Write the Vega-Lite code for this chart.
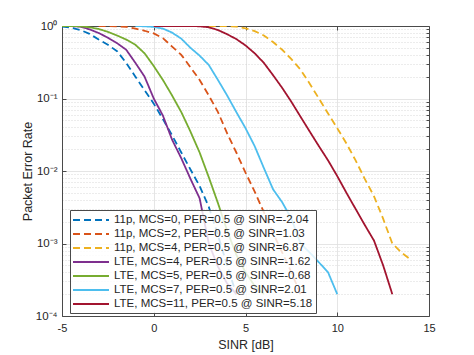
{
  "$schema": "https://vega.github.io/schema/vega-lite/v6.json",
  "width": 367,
  "height": 290,
  "autosize": {"type": "none"},
  "padding": {"left": 62, "top": 26, "right": 45, "bottom": 39},
  "background": "white",
  "config": {
    "font": "Liberation Sans",
    "view": {"stroke": null},
    "axis": {
      "labelFont": "Liberation Sans",
      "titleFont": "Liberation Sans",
      "labelColor": "#262626",
      "titleColor": "#262626",
      "titleFontWeight": "normal",
      "labelFontSize": 11,
      "titleFontSize": 12.5,
      "domainColor": "#4a4a4a",
      "tickColor": "#4a4a4a",
      "gridColor": "#dedede",
      "gridWidth": 0.8
    }
  },
  "data": {
    "values": [
      {"s": "11p, MCS=0, PER=0.5 @ SINR=-2.04", "x": -5, "y": 0.985},
      {"s": "11p, MCS=0, PER=0.5 @ SINR=-2.04", "x": -4.5, "y": 0.95},
      {"s": "11p, MCS=0, PER=0.5 @ SINR=-2.04", "x": -4, "y": 0.88},
      {"s": "11p, MCS=0, PER=0.5 @ SINR=-2.04", "x": -3.5, "y": 0.78},
      {"s": "11p, MCS=0, PER=0.5 @ SINR=-2.04", "x": -3, "y": 0.65},
      {"s": "11p, MCS=0, PER=0.5 @ SINR=-2.04", "x": -2.5, "y": 0.55},
      {"s": "11p, MCS=0, PER=0.5 @ SINR=-2.04", "x": -2, "y": 0.45},
      {"s": "11p, MCS=0, PER=0.5 @ SINR=-2.04", "x": -1.5, "y": 0.31},
      {"s": "11p, MCS=0, PER=0.5 @ SINR=-2.04", "x": -1, "y": 0.2},
      {"s": "11p, MCS=0, PER=0.5 @ SINR=-2.04", "x": -0.5, "y": 0.13},
      {"s": "11p, MCS=0, PER=0.5 @ SINR=-2.04", "x": 0, "y": 0.085},
      {"s": "11p, MCS=0, PER=0.5 @ SINR=-2.04", "x": 0.5, "y": 0.052},
      {"s": "11p, MCS=0, PER=0.5 @ SINR=-2.04", "x": 1, "y": 0.031},
      {"s": "11p, MCS=0, PER=0.5 @ SINR=-2.04", "x": 1.5, "y": 0.018},
      {"s": "11p, MCS=0, PER=0.5 @ SINR=-2.04", "x": 2, "y": 0.0105},
      {"s": "11p, MCS=0, PER=0.5 @ SINR=-2.04", "x": 2.5, "y": 0.0062},
      {"s": "11p, MCS=0, PER=0.5 @ SINR=-2.04", "x": 3, "y": 0.0032},
      {"s": "11p, MCS=0, PER=0.5 @ SINR=-2.04", "x": 3.5, "y": 0.0013},
      {"s": "11p, MCS=0, PER=0.5 @ SINR=-2.04", "x": 4, "y": 0.0005},
      {"s": "11p, MCS=0, PER=0.5 @ SINR=-2.04", "x": 4.5, "y": 0.0002},

      {"s": "11p, MCS=2, PER=0.5 @ SINR=1.03", "x": -3, "y": 1},
      {"s": "11p, MCS=2, PER=0.5 @ SINR=1.03", "x": -2.5, "y": 0.995},
      {"s": "11p, MCS=2, PER=0.5 @ SINR=1.03", "x": -2, "y": 0.99},
      {"s": "11p, MCS=2, PER=0.5 @ SINR=1.03", "x": -1.5, "y": 0.97},
      {"s": "11p, MCS=2, PER=0.5 @ SINR=1.03", "x": -1, "y": 0.92},
      {"s": "11p, MCS=2, PER=0.5 @ SINR=1.03", "x": -0.5, "y": 0.86},
      {"s": "11p, MCS=2, PER=0.5 @ SINR=1.03", "x": 0, "y": 0.79},
      {"s": "11p, MCS=2, PER=0.5 @ SINR=1.03", "x": 0.5, "y": 0.68},
      {"s": "11p, MCS=2, PER=0.5 @ SINR=1.03", "x": 1, "y": 0.52},
      {"s": "11p, MCS=2, PER=0.5 @ SINR=1.03", "x": 1.5, "y": 0.4},
      {"s": "11p, MCS=2, PER=0.5 @ SINR=1.03", "x": 2, "y": 0.27},
      {"s": "11p, MCS=2, PER=0.5 @ SINR=1.03", "x": 2.5, "y": 0.18},
      {"s": "11p, MCS=2, PER=0.5 @ SINR=1.03", "x": 3, "y": 0.11},
      {"s": "11p, MCS=2, PER=0.5 @ SINR=1.03", "x": 3.5, "y": 0.065},
      {"s": "11p, MCS=2, PER=0.5 @ SINR=1.03", "x": 4, "y": 0.033},
      {"s": "11p, MCS=2, PER=0.5 @ SINR=1.03", "x": 4.5, "y": 0.018},
      {"s": "11p, MCS=2, PER=0.5 @ SINR=1.03", "x": 5, "y": 0.0095},
      {"s": "11p, MCS=2, PER=0.5 @ SINR=1.03", "x": 5.5, "y": 0.0052},
      {"s": "11p, MCS=2, PER=0.5 @ SINR=1.03", "x": 6, "y": 0.0027},
      {"s": "11p, MCS=2, PER=0.5 @ SINR=1.03", "x": 6.5, "y": 0.0014},
      {"s": "11p, MCS=2, PER=0.5 @ SINR=1.03", "x": 7, "y": 0.00075},
      {"s": "11p, MCS=2, PER=0.5 @ SINR=1.03", "x": 7.5, "y": 0.0004},
      {"s": "11p, MCS=2, PER=0.5 @ SINR=1.03", "x": 8, "y": 0.0002},

      {"s": "11p, MCS=4, PER=0.5 @ SINR=6.87", "x": 0, "y": 1},
      {"s": "11p, MCS=4, PER=0.5 @ SINR=6.87", "x": 4, "y": 1},
      {"s": "11p, MCS=4, PER=0.5 @ SINR=6.87", "x": 4.5, "y": 0.98},
      {"s": "11p, MCS=4, PER=0.5 @ SINR=6.87", "x": 5, "y": 0.93},
      {"s": "11p, MCS=4, PER=0.5 @ SINR=6.87", "x": 5.5, "y": 0.85},
      {"s": "11p, MCS=4, PER=0.5 @ SINR=6.87", "x": 6, "y": 0.74},
      {"s": "11p, MCS=4, PER=0.5 @ SINR=6.87", "x": 6.5, "y": 0.6},
      {"s": "11p, MCS=4, PER=0.5 @ SINR=6.87", "x": 7, "y": 0.47},
      {"s": "11p, MCS=4, PER=0.5 @ SINR=6.87", "x": 7.5, "y": 0.35},
      {"s": "11p, MCS=4, PER=0.5 @ SINR=6.87", "x": 8, "y": 0.25},
      {"s": "11p, MCS=4, PER=0.5 @ SINR=6.87", "x": 8.5, "y": 0.16},
      {"s": "11p, MCS=4, PER=0.5 @ SINR=6.87", "x": 9, "y": 0.1},
      {"s": "11p, MCS=4, PER=0.5 @ SINR=6.87", "x": 9.5, "y": 0.062},
      {"s": "11p, MCS=4, PER=0.5 @ SINR=6.87", "x": 10, "y": 0.039},
      {"s": "11p, MCS=4, PER=0.5 @ SINR=6.87", "x": 10.5, "y": 0.024},
      {"s": "11p, MCS=4, PER=0.5 @ SINR=6.87", "x": 11, "y": 0.014},
      {"s": "11p, MCS=4, PER=0.5 @ SINR=6.87", "x": 11.5, "y": 0.0078},
      {"s": "11p, MCS=4, PER=0.5 @ SINR=6.87", "x": 12, "y": 0.0045},
      {"s": "11p, MCS=4, PER=0.5 @ SINR=6.87", "x": 12.5, "y": 0.0022},
      {"s": "11p, MCS=4, PER=0.5 @ SINR=6.87", "x": 13, "y": 0.001},
      {"s": "11p, MCS=4, PER=0.5 @ SINR=6.87", "x": 13.5, "y": 0.00075},
      {"s": "11p, MCS=4, PER=0.5 @ SINR=6.87", "x": 14, "y": 0.0006},

      {"s": "LTE, MCS=4, PER=0.5 @ SINR=-1.62", "x": -5, "y": 1},
      {"s": "LTE, MCS=4, PER=0.5 @ SINR=-1.62", "x": -4.5, "y": 0.995},
      {"s": "LTE, MCS=4, PER=0.5 @ SINR=-1.62", "x": -4, "y": 0.98},
      {"s": "LTE, MCS=4, PER=0.5 @ SINR=-1.62", "x": -3.5, "y": 0.9},
      {"s": "LTE, MCS=4, PER=0.5 @ SINR=-1.62", "x": -3, "y": 0.8},
      {"s": "LTE, MCS=4, PER=0.5 @ SINR=-1.62", "x": -2.5, "y": 0.69},
      {"s": "LTE, MCS=4, PER=0.5 @ SINR=-1.62", "x": -2, "y": 0.58},
      {"s": "LTE, MCS=4, PER=0.5 @ SINR=-1.62", "x": -1.5, "y": 0.47},
      {"s": "LTE, MCS=4, PER=0.5 @ SINR=-1.62", "x": -1, "y": 0.31},
      {"s": "LTE, MCS=4, PER=0.5 @ SINR=-1.62", "x": -0.5, "y": 0.2},
      {"s": "LTE, MCS=4, PER=0.5 @ SINR=-1.62", "x": 0, "y": 0.1},
      {"s": "LTE, MCS=4, PER=0.5 @ SINR=-1.62", "x": 0.5, "y": 0.058},
      {"s": "LTE, MCS=4, PER=0.5 @ SINR=-1.62", "x": 1, "y": 0.027},
      {"s": "LTE, MCS=4, PER=0.5 @ SINR=-1.62", "x": 1.5, "y": 0.015},
      {"s": "LTE, MCS=4, PER=0.5 @ SINR=-1.62", "x": 2, "y": 0.0078},
      {"s": "LTE, MCS=4, PER=0.5 @ SINR=-1.62", "x": 2.5, "y": 0.0042},
      {"s": "LTE, MCS=4, PER=0.5 @ SINR=-1.62", "x": 3, "y": 0.001},
      {"s": "LTE, MCS=4, PER=0.5 @ SINR=-1.62", "x": 3.5, "y": 0.00048},
      {"s": "LTE, MCS=4, PER=0.5 @ SINR=-1.62", "x": 4, "y": 0.00028},
      {"s": "LTE, MCS=4, PER=0.5 @ SINR=-1.62", "x": 4.5, "y": 0.0002},

      {"s": "LTE, MCS=5, PER=0.5 @ SINR=-0.68", "x": -5, "y": 1},
      {"s": "LTE, MCS=5, PER=0.5 @ SINR=-0.68", "x": -4.5, "y": 1},
      {"s": "LTE, MCS=5, PER=0.5 @ SINR=-0.68", "x": -4, "y": 0.99},
      {"s": "LTE, MCS=5, PER=0.5 @ SINR=-0.68", "x": -3.5, "y": 0.96},
      {"s": "LTE, MCS=5, PER=0.5 @ SINR=-0.68", "x": -3, "y": 0.91},
      {"s": "LTE, MCS=5, PER=0.5 @ SINR=-0.68", "x": -2.5, "y": 0.83},
      {"s": "LTE, MCS=5, PER=0.5 @ SINR=-0.68", "x": -2, "y": 0.74},
      {"s": "LTE, MCS=5, PER=0.5 @ SINR=-0.68", "x": -1.5, "y": 0.65},
      {"s": "LTE, MCS=5, PER=0.5 @ SINR=-0.68", "x": -1, "y": 0.55},
      {"s": "LTE, MCS=5, PER=0.5 @ SINR=-0.68", "x": -0.5, "y": 0.42},
      {"s": "LTE, MCS=5, PER=0.5 @ SINR=-0.68", "x": 0, "y": 0.28},
      {"s": "LTE, MCS=5, PER=0.5 @ SINR=-0.68", "x": 0.5, "y": 0.18},
      {"s": "LTE, MCS=5, PER=0.5 @ SINR=-0.68", "x": 1, "y": 0.11},
      {"s": "LTE, MCS=5, PER=0.5 @ SINR=-0.68", "x": 1.5, "y": 0.065},
      {"s": "LTE, MCS=5, PER=0.5 @ SINR=-0.68", "x": 2, "y": 0.035},
      {"s": "LTE, MCS=5, PER=0.5 @ SINR=-0.68", "x": 2.5, "y": 0.018},
      {"s": "LTE, MCS=5, PER=0.5 @ SINR=-0.68", "x": 3, "y": 0.0082},
      {"s": "LTE, MCS=5, PER=0.5 @ SINR=-0.68", "x": 3.5, "y": 0.0036},
      {"s": "LTE, MCS=5, PER=0.5 @ SINR=-0.68", "x": 4, "y": 0.0015},
      {"s": "LTE, MCS=5, PER=0.5 @ SINR=-0.68", "x": 4.5, "y": 0.0007},
      {"s": "LTE, MCS=5, PER=0.5 @ SINR=-0.68", "x": 5, "y": 0.0004},
      {"s": "LTE, MCS=5, PER=0.5 @ SINR=-0.68", "x": 5.5, "y": 0.00026},
      {"s": "LTE, MCS=5, PER=0.5 @ SINR=-0.68", "x": 6, "y": 0.0002},

      {"s": "LTE, MCS=7, PER=0.5 @ SINR=2.01", "x": -1, "y": 1},
      {"s": "LTE, MCS=7, PER=0.5 @ SINR=2.01", "x": -0.5, "y": 0.99},
      {"s": "LTE, MCS=7, PER=0.5 @ SINR=2.01", "x": 0, "y": 0.97},
      {"s": "LTE, MCS=7, PER=0.5 @ SINR=2.01", "x": 0.5, "y": 0.92},
      {"s": "LTE, MCS=7, PER=0.5 @ SINR=2.01", "x": 1, "y": 0.81},
      {"s": "LTE, MCS=7, PER=0.5 @ SINR=2.01", "x": 1.5, "y": 0.67},
      {"s": "LTE, MCS=7, PER=0.5 @ SINR=2.01", "x": 2, "y": 0.5},
      {"s": "LTE, MCS=7, PER=0.5 @ SINR=2.01", "x": 2.5, "y": 0.39},
      {"s": "LTE, MCS=7, PER=0.5 @ SINR=2.01", "x": 3, "y": 0.29},
      {"s": "LTE, MCS=7, PER=0.5 @ SINR=2.01", "x": 3.5, "y": 0.18},
      {"s": "LTE, MCS=7, PER=0.5 @ SINR=2.01", "x": 4, "y": 0.11},
      {"s": "LTE, MCS=7, PER=0.5 @ SINR=2.01", "x": 4.5, "y": 0.065},
      {"s": "LTE, MCS=7, PER=0.5 @ SINR=2.01", "x": 5, "y": 0.039},
      {"s": "LTE, MCS=7, PER=0.5 @ SINR=2.01", "x": 5.5, "y": 0.022},
      {"s": "LTE, MCS=7, PER=0.5 @ SINR=2.01", "x": 6, "y": 0.011},
      {"s": "LTE, MCS=7, PER=0.5 @ SINR=2.01", "x": 6.5, "y": 0.0056},
      {"s": "LTE, MCS=7, PER=0.5 @ SINR=2.01", "x": 7, "y": 0.0037},
      {"s": "LTE, MCS=7, PER=0.5 @ SINR=2.01", "x": 7.5, "y": 0.0022},
      {"s": "LTE, MCS=7, PER=0.5 @ SINR=2.01", "x": 8, "y": 0.001},
      {"s": "LTE, MCS=7, PER=0.5 @ SINR=2.01", "x": 8.5, "y": 0.00075},
      {"s": "LTE, MCS=7, PER=0.5 @ SINR=2.01", "x": 9, "y": 0.00055},
      {"s": "LTE, MCS=7, PER=0.5 @ SINR=2.01", "x": 9.5, "y": 0.0004},
      {"s": "LTE, MCS=7, PER=0.5 @ SINR=2.01", "x": 10, "y": 0.0002},

      {"s": "LTE, MCS=11, PER=0.5 @ SINR=5.18", "x": 0, "y": 1},
      {"s": "LTE, MCS=11, PER=0.5 @ SINR=5.18", "x": 2, "y": 1},
      {"s": "LTE, MCS=11, PER=0.5 @ SINR=5.18", "x": 2.5, "y": 0.99},
      {"s": "LTE, MCS=11, PER=0.5 @ SINR=5.18", "x": 3, "y": 0.96},
      {"s": "LTE, MCS=11, PER=0.5 @ SINR=5.18", "x": 3.5, "y": 0.88},
      {"s": "LTE, MCS=11, PER=0.5 @ SINR=5.18", "x": 4, "y": 0.77},
      {"s": "LTE, MCS=11, PER=0.5 @ SINR=5.18", "x": 4.5, "y": 0.66},
      {"s": "LTE, MCS=11, PER=0.5 @ SINR=5.18", "x": 5, "y": 0.54},
      {"s": "LTE, MCS=11, PER=0.5 @ SINR=5.18", "x": 5.5, "y": 0.42},
      {"s": "LTE, MCS=11, PER=0.5 @ SINR=5.18", "x": 6, "y": 0.31},
      {"s": "LTE, MCS=11, PER=0.5 @ SINR=5.18", "x": 6.5, "y": 0.21},
      {"s": "LTE, MCS=11, PER=0.5 @ SINR=5.18", "x": 7, "y": 0.14},
      {"s": "LTE, MCS=11, PER=0.5 @ SINR=5.18", "x": 7.5, "y": 0.09},
      {"s": "LTE, MCS=11, PER=0.5 @ SINR=5.18", "x": 8, "y": 0.056},
      {"s": "LTE, MCS=11, PER=0.5 @ SINR=5.18", "x": 8.5, "y": 0.035},
      {"s": "LTE, MCS=11, PER=0.5 @ SINR=5.18", "x": 9, "y": 0.022},
      {"s": "LTE, MCS=11, PER=0.5 @ SINR=5.18", "x": 9.5, "y": 0.014},
      {"s": "LTE, MCS=11, PER=0.5 @ SINR=5.18", "x": 10, "y": 0.0085},
      {"s": "LTE, MCS=11, PER=0.5 @ SINR=5.18", "x": 10.5, "y": 0.005},
      {"s": "LTE, MCS=11, PER=0.5 @ SINR=5.18", "x": 11, "y": 0.003},
      {"s": "LTE, MCS=11, PER=0.5 @ SINR=5.18", "x": 11.5, "y": 0.0018},
      {"s": "LTE, MCS=11, PER=0.5 @ SINR=5.18", "x": 12, "y": 0.0011},
      {"s": "LTE, MCS=11, PER=0.5 @ SINR=5.18", "x": 12.5, "y": 0.0005},
      {"s": "LTE, MCS=11, PER=0.5 @ SINR=5.18", "x": 13, "y": 0.0002}
    ]
  },
  "layer": [
    {
      "mark": {"type": "line", "strokeWidth": 1.8, "clip": true},
      "encoding": {
        "x": {
          "field": "x", "type": "quantitative",
          "scale": {"domain": [-5, 15], "nice": false, "zero": false},
          "axis": {"title": "SINR [dB]", "values": [-5, 0, 5, 10, 15], "labelExpr": "datum.value < 0 ? '-' + abs(datum.value) : '' + datum.value", "labelFlush": false, "grid": true, "tickSize": -4, "labelPadding": 10, "titlePadding": 5}
        },
        "y": {
          "field": "y", "type": "quantitative",
          "scale": {"type": "log", "domain": [0.0001, 1], "nice": false},
          "axis": {
            "title": "Packet Error Rate",
            "values": [0.0001, 0.001, 0.01, 0.1, 1],
            "labelExpr": "datum.value > 0.5 ? '10⁰' : datum.value > 0.05 ? '10⁻¹' : datum.value > 0.005 ? '10⁻²' : datum.value > 0.0005 ? '10⁻³' : '10⁻⁴'",
            "labelFontSize": 11.5,
            "grid": true, "tickSize": -4, "labelPadding": 9, "titlePadding": 1
          }
        },
        "color": {
          "field": "s", "type": "nominal",
          "scale": {
            "domain": ["11p, MCS=0, PER=0.5 @ SINR=-2.04", "11p, MCS=2, PER=0.5 @ SINR=1.03", "11p, MCS=4, PER=0.5 @ SINR=6.87", "LTE, MCS=4, PER=0.5 @ SINR=-1.62", "LTE, MCS=5, PER=0.5 @ SINR=-0.68", "LTE, MCS=7, PER=0.5 @ SINR=2.01", "LTE, MCS=11, PER=0.5 @ SINR=5.18"],
            "range": ["#0072BD", "#D95319", "#EDB120", "#7E2F8E", "#77AC30", "#4DBEEE", "#A2142F"]
          },
          "legend": {"title": null, "orient": "none", "legendX": 8, "legendY": 184, "fillColor": "rgba(255,255,255,0.82)", "strokeColor": "#4a4a4a", "padding": 3, "labelFont": "Liberation Sans", "labelFontSize": 11.5, "labelColor": "#262626", "labelLimit": 400, "symbolType": "M-3,0H3", "symbolSize": 144, "symbolOffset": 11, "symbolStrokeWidth": 1.8, "rowPadding": 1, "labelOffset": 16, "cornerRadius": 0}
        },
        "strokeDash": {
          "field": "s", "type": "nominal",
          "scale": {
            "domain": ["11p, MCS=0, PER=0.5 @ SINR=-2.04", "11p, MCS=2, PER=0.5 @ SINR=1.03", "11p, MCS=4, PER=0.5 @ SINR=6.87", "LTE, MCS=4, PER=0.5 @ SINR=-1.62", "LTE, MCS=5, PER=0.5 @ SINR=-0.68", "LTE, MCS=7, PER=0.5 @ SINR=2.01", "LTE, MCS=11, PER=0.5 @ SINR=5.18"],
            "range": [[7, 4], [7, 4], [7, 4], [1, 0], [1, 0], [1, 0], [1, 0]]
          },
          "legend": {"title": null, "orient": "none", "legendX": 8, "legendY": 184, "fillColor": "rgba(255,255,255,0.82)", "strokeColor": "#4a4a4a", "padding": 3, "labelFont": "Liberation Sans", "labelFontSize": 11.5, "labelColor": "#262626", "labelLimit": 400, "symbolType": "M-3,0H3", "symbolSize": 144, "symbolOffset": 11, "symbolStrokeWidth": 1.8, "rowPadding": 1, "labelOffset": 16, "cornerRadius": 0}
        }
      }
    },
    {
      "mark": {"type": "line", "opacity": 0},
      "encoding": {
        "x": {
          "field": "x", "type": "quantitative",
          "scale": {"domain": [-5, 15], "nice": false, "zero": false},
          "axis": {"orient": "top", "title": null, "values": [-5, 0, 5, 10, 15], "labels": false, "grid": false, "tickSize": -4}
        },
        "y": {
          "field": "y", "type": "quantitative",
          "scale": {"type": "log", "domain": [0.0001, 1], "nice": false},
          "axis": {
            "orient": "right", "title": null, "labels": false,
            "values": [0.0002, 0.0003, 0.0004, 0.0005, 0.0006, 0.0007, 0.0008, 0.0009, 0.002, 0.003, 0.004, 0.005, 0.006, 0.007, 0.008, 0.009, 0.02, 0.03, 0.04, 0.05, 0.06, 0.07, 0.08, 0.09, 0.2, 0.3, 0.4, 0.5, 0.6, 0.7, 0.8, 0.9],
            "grid": true, "gridDash": [1, 2], "gridColor": "#cfcfcf", "tickSize": -3
          }
        }
      }
    }
  ],
  "resolve": {"axis": {"x": "independent", "y": "independent"}}
}
